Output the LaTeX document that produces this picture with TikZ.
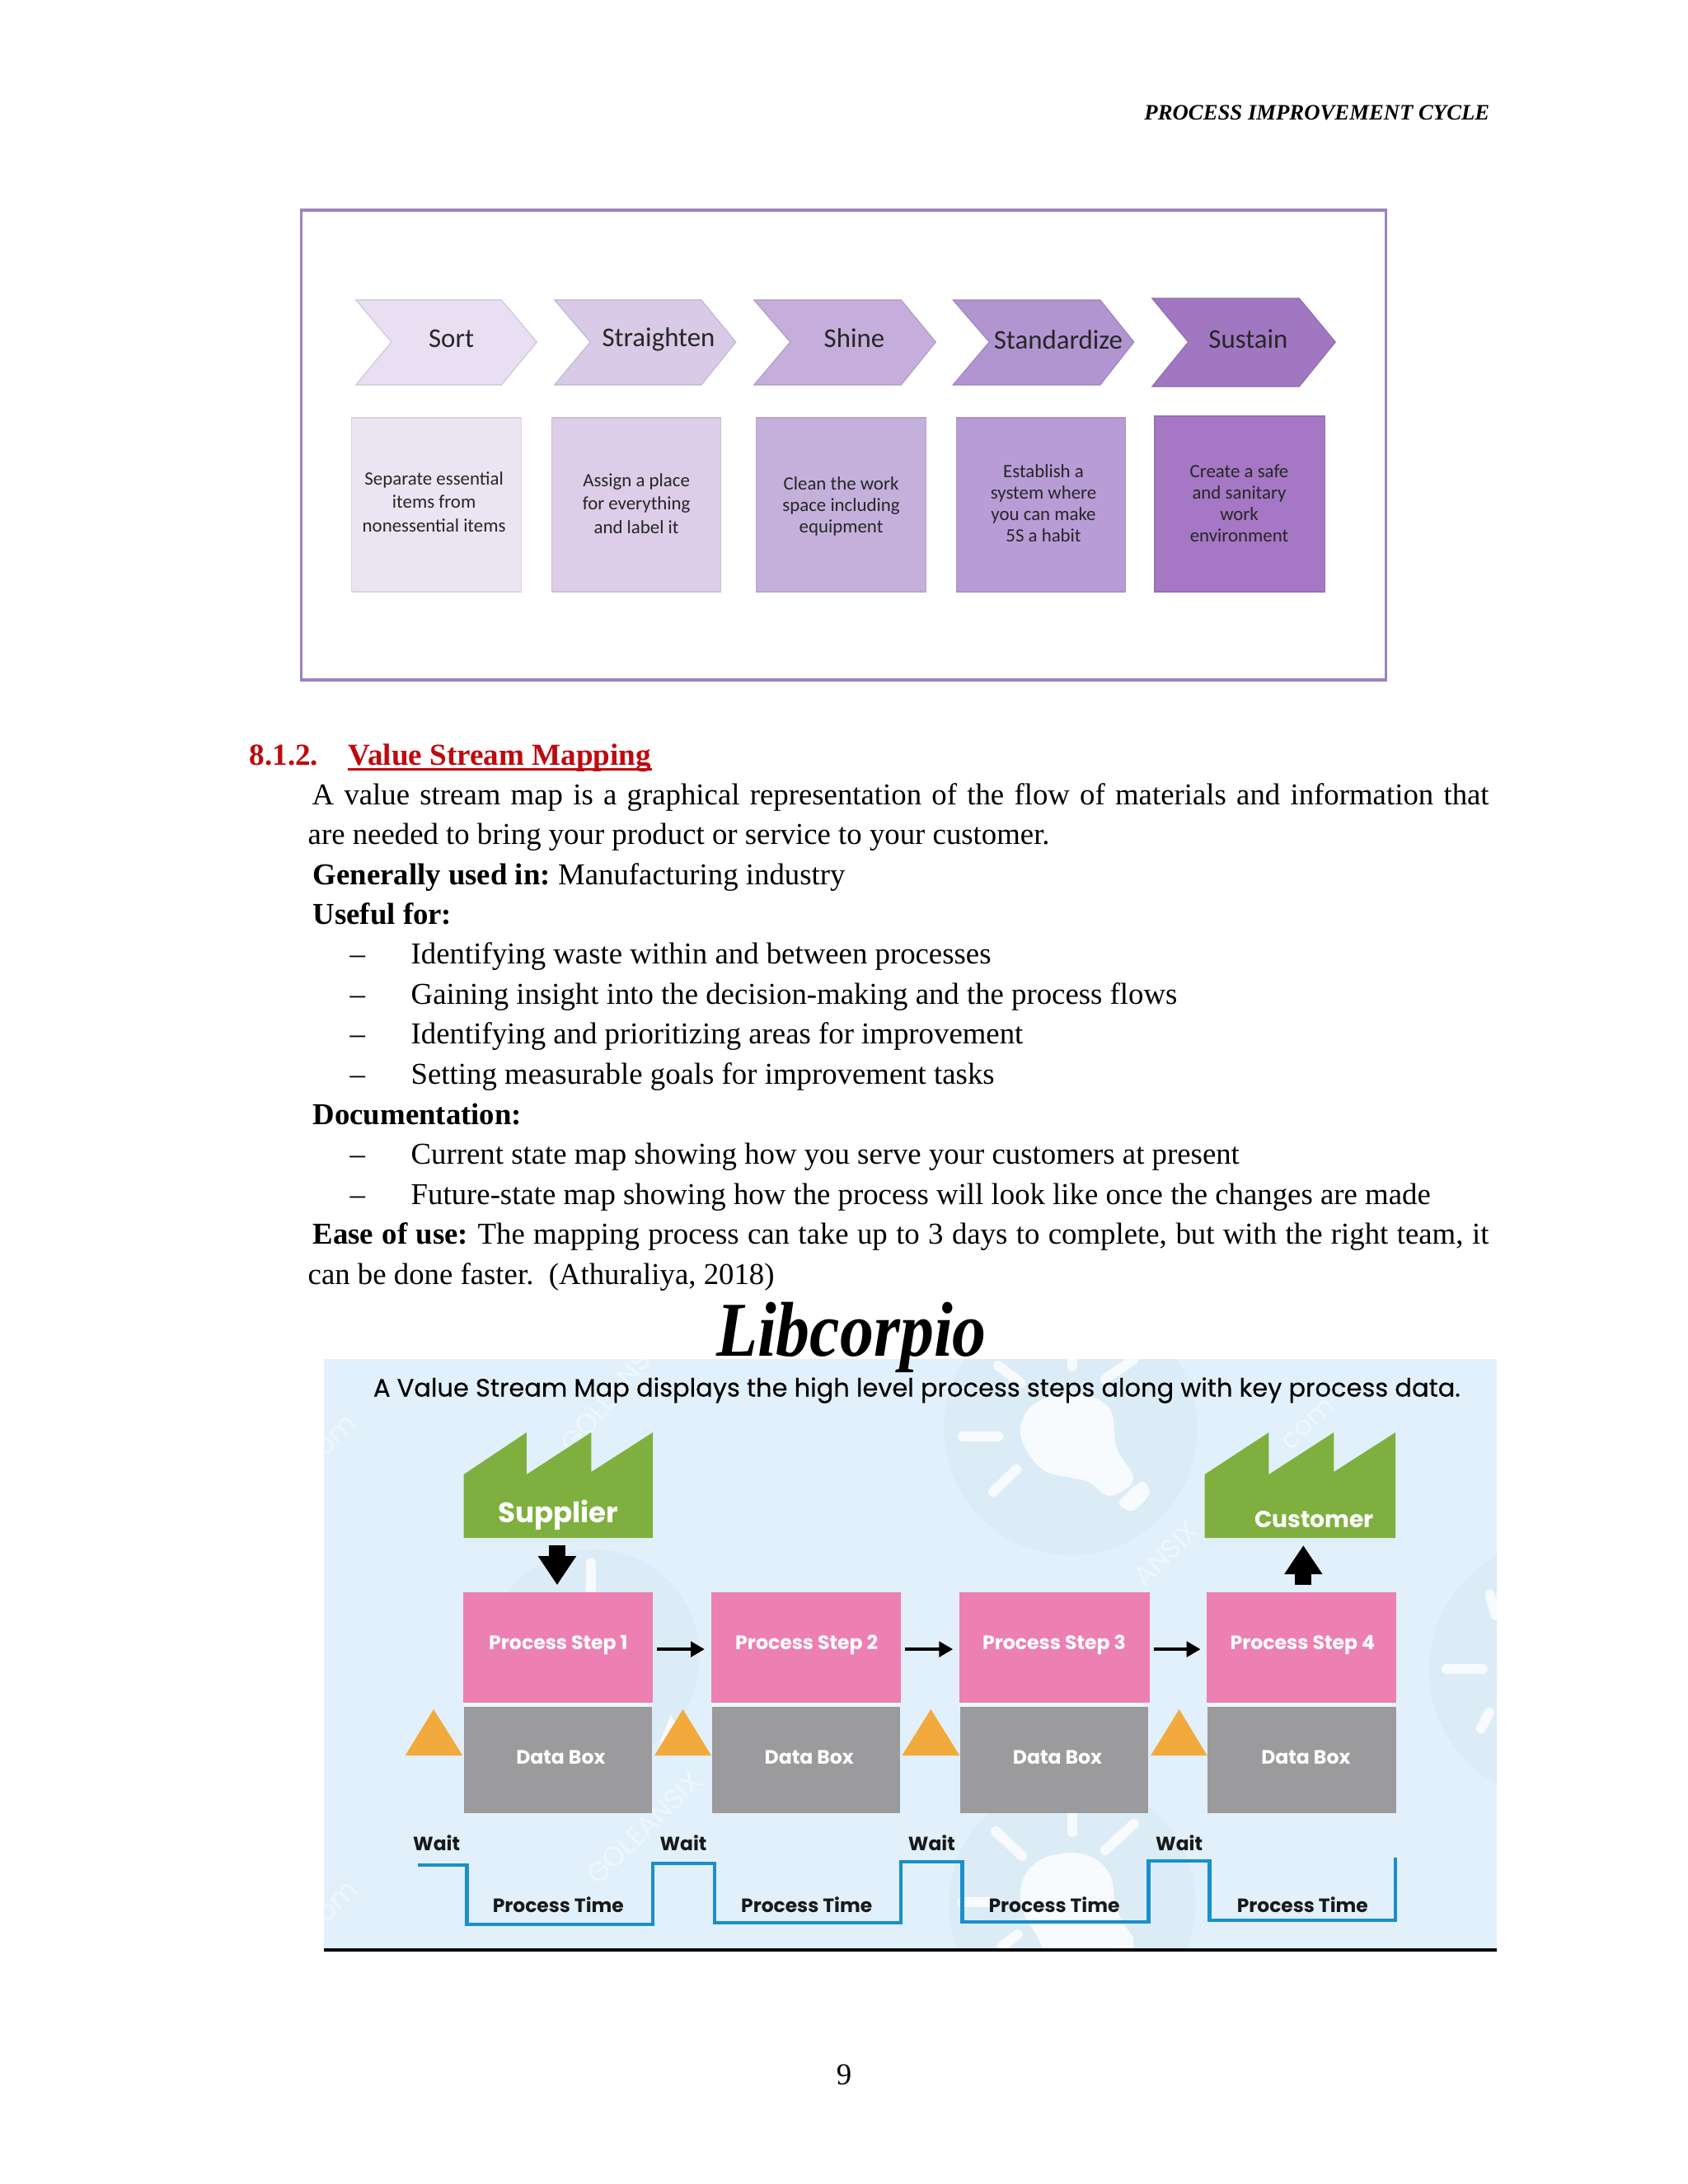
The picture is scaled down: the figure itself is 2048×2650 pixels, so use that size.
\documentclass[tikz,border=0pt]{standalone}
\usepackage{fontspec}
\setmainfont{Liberation Serif}
\newfontfamily\car{Carlito}
\newfontfamily\pop{Poppins}
\newfontfamily\popm[FakeBold=0.35]{Poppins}
\usetikzlibrary{arrows.meta}
\definecolor{frameviolet}{HTML}{9B84BE}
\definecolor{headred}{HTML}{BE0A0F}
\definecolor{skyb}{HTML}{E1F0FA}
\definecolor{skyc}{HTML}{DCECF7}
\definecolor{skyw}{HTML}{F8FBFE}
\definecolor{skym}{HTML}{EEF7FC}
\definecolor{factgreen}{HTML}{7FB03F}
\definecolor{pinkbox}{HTML}{EC80B3}
\definecolor{greybox}{HTML}{9B9A9C}
\definecolor{tri}{HTML}{F2AA3C}
\definecolor{stepline}{HTML}{1A8FCB}
\definecolor{va}{HTML}{E8DFF3}
\definecolor{vb}{HTML}{D9CBE8}
\definecolor{vc}{HTML}{C6AEDC}
\definecolor{vd}{HTML}{B195D0}
\definecolor{ve}{HTML}{A277C2}
\definecolor{ra}{HTML}{EBE4F2}
\definecolor{rb}{HTML}{DDCDE8}
\definecolor{rc}{HTML}{C5B0DC}
\definecolor{rd}{HTML}{B89CD6}
\definecolor{re}{HTML}{A577C4}
\tikzset{
  x=0.01cm,y=-0.01cm,
  bodytext/.style={anchor=base west,inner sep=0pt,font=\fontsize{10.46}{13}\selectfont},
  headtext/.style={anchor=base west,inner sep=0pt,text=headred,font=\fontsize{10.56}{13}\selectfont\bfseries},
  chevtext/.style={inner sep=0pt,font=\car\fontsize{9.35}{10}\selectfont,text=black!85},
  desc/.style={inner sep=0pt,align=center,font=\car\fontsize{6.5}{8.2}\selectfont,text=black!85},
  descb/.style={inner sep=0pt,align=center,font=\car\fontsize{6.5}{7.4}\selectfont,text=black!85},
  cell/.style={inner sep=0pt,draw=#1!93!black,line width=0.3pt,fill=#1},
  procbox/.style={inner sep=0pt,fill=pinkbox},
  databox/.style={inner sep=0pt,fill=greybox},
  poplabel/.style={inner sep=0pt,text=white,font=\pop\bfseries\fontsize{6.7}{8}\selectfont},
  vsmlabel/.style={inner sep=0pt,text=black!90,font=\pop\bfseries\fontsize{6.65}{8}\selectfont},
  factlabel/.style={inner sep=0pt,text=white,font=\pop\bfseries\fontsize{#1}{10}\selectfont},
  flowarrow/.style={line width=1.3pt,shorten <=1.1pt,shorten >=2pt,-{Triangle[length=4.8pt,width=5.2pt]}},
  blockarrow/.style={line width=5.7pt,-{Triangle[length=10pt,width=12.5pt]}},
  wmark/.style={text=skym,font=\pop\fontsize{#1}{12}\selectfont,inner sep=0pt},
  ray/.style={skyw,line width=3.4pt,line cap=round},
}
\newcommand{\boxnode}[7]{\node[#6,minimum width={(#4-#2)*0.01cm},minimum height={(#5-#3)*0.01cm}] (#1) at ({(#2+#4)/2},{(#3+#5)/2}) {#7};}
\newcommand{\chevpath}[8]{\fill[#1,draw=#1!88!black,line width=0.3pt] (#2,#6) -- (#4,#6) -- (#5,#8) -- (#4,#7) -- (#2,#7) -- (#3,#8) -- cycle;}
\begin{document}
\begin{tikzpicture}
\useasboundingbox (0,0) rectangle (2048,2650);
\fill[white] (0,0) rectangle (2048,2650);
% header
\node[anchor=base east,inner sep=0pt,font=\fontsize{7.6}{9}\selectfont\bfseries\itshape] (hdr) at (1808,145) {PROCESS IMPROVEMENT CYCLE};
% 5S panel
\begin{scope}[shift={(350,0)},xscale=0.99785,shift={(-350,0)}]
\draw[frameviolet,line width=0.9pt] (365.5,255) rectangle (1684.5,825);
\chevpath{va}{432}{475}{609}{652}{364}{467}{415}
\chevpath{vb}{673.5}{717}{852}{894}{364}{467}{415}
\chevpath{vc}{916}{960}{1095}{1137}{364}{467}{415}
\chevpath{vd}{1158}{1202}{1337}{1378}{364}{467}{415}
\chevpath{ve}{1400}{1444}{1579}{1623}{362}{469}{415}
\node[chevtext] (t1) at (548,411) {Sort};
\node[chevtext] (t2) at (800,412) {Straighten};
\node[chevtext] (t3) at (1038,410) {Shine};
\node[chevtext] (t4) at (1286,412) {Standardize};
\node[chevtext] (t5) at (1517,411) {Sustain};
\boxnode{c1}{427}{507}{633}{718}{cell=ra}{}
\boxnode{c2}{670}{507}{875}{718}{cell=rb}{}
\boxnode{c3}{919}{507}{1125}{718}{cell=rc}{}
\boxnode{c4}{1162}{507}{1367}{718}{cell=rd}{}
\boxnode{c5}{1403.5}{505}{1610}{718}{cell=re}{}
\node[desc] (d1) at (527,609) {Separate essential\\items from\\nonessential items};
\node[desc] (d2) at (773,611) {Assign a place\\for everything\\and label it};
\node[descb] (d3) at (1022,614.5) {Clean the work\\space including\\equipment};
\node[descb] (d4) at (1268,610.5) {Establish a\\system where\\you can make\\5S a habit};
\node[descb] (d5) at (1506,610.5) {Create a safe\\and sanitary\\work\\environment};
\end{scope}
% text
\node[headtext] (h1) at (302,928) {8.1.2.};
\node[headtext] (h2) at (422,928) {Value Stream Mapping};
\draw[headred,line width=0.95pt] ([yshift=-1.5pt]h2.base west) -- ([yshift=-1.5pt]h2.base east);
\node[bodytext] (l1) at (378,976) {\makebox[14.27cm][s]{A value stream map is a graphical representation of the flow of materials and information that}};
\node[bodytext] (l2) at (373,1024) {are needed to bring your product or service to your customer.};
\node[bodytext] (l3) at (379,1073) {\textbf{Generally used in:}\hspace{-0.85pt} Manufacturing industry};
\node[bodytext] (l4) at (379,1121) {\textbf{Useful for:}};
\node[bodytext] (a1) at (424,1169) {–};
\node[bodytext] (i1) at (498,1169) {Identifying waste within and between processes};
\node[bodytext] (a2) at (424,1218) {–};
\node[bodytext] (i2) at (498,1218) {Gaining insight into the decision-making and the process flows};
\node[bodytext] (a3) at (424,1266) {–};
\node[bodytext] (i3) at (498,1266) {Identifying and prioritizing areas for improvement};
\node[bodytext] (a4) at (424,1315) {–};
\node[bodytext] (i4) at (498,1315) {Setting measurable goals for improvement tasks};
\node[bodytext] (l5) at (379,1364) {\textbf{Documentation:}};
\node[bodytext] (a5) at (424,1412) {–};
\node[bodytext] (i5) at (498,1412) {Current state map showing how you serve your customers at present};
\node[bodytext] (a6) at (424,1461) {–};
\node[bodytext] (i6) at (498,1461) {Future-state map showing how the process will look like once the changes are made};
\node[bodytext] (l6) at (379,1509) {\makebox[14.26cm][s]{\textbf{Ease of use:}\hspace{-0.85pt} The mapping process can take up to 3 days to complete, but with the right team, it}};
\node[bodytext] (l7) at (373,1558) {can be done faster.\ \ (Athuraliya, 2018)};
% VSM panel
\begin{scope}[shift={(380,0)},xscale=0.99778,shift={(-380,0)}]
\fill[skyb] (393,1649) rectangle (1819,2364);
\begin{scope}
\clip (393,1649) rectangle (1819,2364);
\fill[skyc] (1301,1733) circle (154);
\fill[skyc] (1303,2310) circle (150);
\fill[skyc] (720,2010) circle (130);
\fill[skyc] (1895,2026) circle (158);
% bulbs
\fill[skyw] plot[smooth cycle,tension=0.6] coordinates {(1300,1690) (1255,1705) (1240,1740) (1267,1783) (1320,1797) (1348,1815) (1377,1795) (1357,1757) (1347,1707)};
\fill[skyw] plot[smooth cycle,tension=0.5] coordinates {(1387,1798) (1397,1812) (1377,1833) (1360,1823)};
\fill[skyw] (1300,2248) .. controls (1255,2250) and (1240,2275) .. (1240,2297) .. controls (1240,2320) and (1250,2335) .. (1258,2345) -- (1275,2380) -- (1377,2380) -- (1377,2350) .. controls (1360,2330) and (1353,2310) .. (1353,2290) .. controls (1350,2265) and (1330,2248) .. (1300,2248) -- cycle;
\foreach \a/\b/\c/\d in {1170/1743/1213/1743,1207/1810/1235/1783,1213/1657/1240/1678,1303/1645/1303/1658,1343/1673/1377/1650,1303/2203/1303/2223,1210/2222/1242/2252,1378/2213/1343/2245,1170/2308/1200/2308,1237/2347/1217/2362,1758/2025/1802/2025,1811/1935/1818/1960,1800/2097/1810/2078,718/1897/718/1930}
  \draw[ray] (\a,\b) -- (\c,\d);
\fill[skyw] (802,2113) -- (815,2080) -- (822,2095) -- (810,2113) -- cycle;
\node[wmark=9.5,rotate=44] (w1) at (782,2218) {GOLEANSIX};
\node[wmark=9.5,rotate=50] (w2) at (745,1690) {GOLEANSIX};
\node[wmark=9.5,rotate=44] (w3) at (1417,1885) {ANSIX};
\node[wmark=9.5,rotate=44] (w4) at (410,2308) {om};
\node[wmark=9.5,rotate=44] (w5) at (408,1742) {om};
\node[wmark=9.5,rotate=44] (w6) at (1590,1728) {com};
\end{scope}
\draw[black,line width=1.4pt] (393,2366) -- (1819,2366);
\node[inner sep=0pt,font=\popm\fontsize{8.67}{10}\selectfont] (title) at (1114,1687) {A Value Stream Map displays the high level process steps along with key process data.};
% factories
\fill[factgreen] (563,1866) -- (563,1789) -- (639.5,1738) -- (639.5,1789) -- (718,1738) -- (718,1786) -- (793,1738) -- (793,1866) -- cycle;
\fill[factgreen] (1464,1866) -- (1464,1789) -- (1542,1738) -- (1542,1789) -- (1621,1738) -- (1621,1786) -- (1696,1738) -- (1696,1866) -- cycle;
\coordinate (supfoot) at (676.6,1866);
\coordinate (cusfoot) at (1584,1866);
\node[factlabel=9.7] (sup) at (678,1838) {Supplier};
\node[factlabel=8] (cus) at (1597,1844) {Customer};
% process and data boxes
\fill[skym] (563,2066) rectangle (793,2071);
\fill[skym] (864,2066) rectangle (1094,2071);
\fill[skym] (1166,2066) rectangle (1397,2071);
\fill[skym] (1467,2066) rectangle (1697,2071);
\boxnode{p1}{562.6}{1932}{793}{2066}{procbox}{}
\boxnode{p2}{864}{1932}{1094.6}{2066}{procbox}{}
\boxnode{p3}{1166}{1932}{1397}{2066}{procbox}{}
\boxnode{p4}{1467}{1932}{1697}{2066}{procbox}{}
\node[poplabel] (pl1) at (678,1996) {Process Step 1};
\node[poplabel] (pl2) at (980,1996) {Process Step 2};
\node[poplabel] (pl3) at (1281,1996) {Process Step 3};
\node[poplabel] (pl4) at (1583,1996) {Process Step 4};
\boxnode{b1}{563.5}{2071}{791.5}{2200}{databox}{}
\boxnode{b2}{865.6}{2071}{1093.6}{2200}{databox}{}
\boxnode{b3}{1167}{2071}{1395}{2200}{databox}{}
\boxnode{b4}{1468}{2071}{1697}{2200}{databox}{}
\node[poplabel] (dl1) at (681,2132) {Data Box};
\node[poplabel] (dl2) at (983,2132) {Data Box};
\node[poplabel] (dl3) at (1285,2132) {Data Box};
\node[poplabel] (dl4) at (1587,2132) {Data Box};
% triangles
\fill[tri] (492,2130) -- (526.4,2074) -- (561.6,2130) -- cycle;
\fill[tri] (795,2130) -- (829.5,2074) -- (864,2130) -- cycle;
\fill[tri] (1096,2130) -- (1131,2074) -- (1166,2130) -- cycle;
\fill[tri] (1398.5,2130) -- (1433,2074) -- (1467,2130) -- cycle;
% arrows
\draw[flowarrow] ([yshift=-0.6pt]p1.east) -- ([yshift=-0.6pt]p2.west);
\draw[flowarrow] ([yshift=-0.6pt]p2.east) -- ([yshift=-0.6pt]p3.west);
\draw[flowarrow] ([yshift=-0.6pt]p3.east) -- ([yshift=-0.6pt]p4.west);
\draw[blockarrow,shorten <=2.56pt,shorten >=2.3pt] (supfoot) -- (supfoot |- p1.north);
\draw[blockarrow,shorten <=2.3pt,shorten >=2.56pt] (cusfoot |- p4.north) -- (cusfoot);
% timeline
\node[vsmlabel] (w1l) at (530,2236) {Wait};
\node[vsmlabel] (w2l) at (830,2236) {Wait};
\node[vsmlabel] (w3l) at (1132,2236) {Wait};
\node[vsmlabel] (w4l) at (1433,2236) {Wait};
\node[vsmlabel] (t1l) at (678,2311) {Process Time};
\node[vsmlabel] (t2l) at (980,2311) {Process Time};
\node[vsmlabel] (t3l) at (1281,2311) {Process Time};
\node[vsmlabel] (t4l) at (1583,2311) {Process Time};
\draw[stepline,line width=1.3pt] (507,2263) -- (567,2263) -- (567,2335) -- (793,2335) -- (793,2261) -- (868,2261) -- (868,2333) -- (1094.6,2333) -- (1094.6,2259) -- (1169,2259) -- (1169,2332) -- (1396,2332) -- (1396,2258) -- (1470,2258) -- (1470,2330) -- (1696,2330) -- (1696,2254);
\end{scope}
% Libcorpio
\node[inner sep=0pt,anchor=base,font=\bfseries\itshape\fontsize{23.3}{26}\selectfont] (logo) at (1033,1645) {\scalebox{1}[1.15]{Libcorpio}};
% page number
\node[inner sep=0pt,anchor=base,font=\fontsize{10.46}{13}\selectfont] (pg) at (1024,2529) {9};
\end{tikzpicture}
\end{document}
